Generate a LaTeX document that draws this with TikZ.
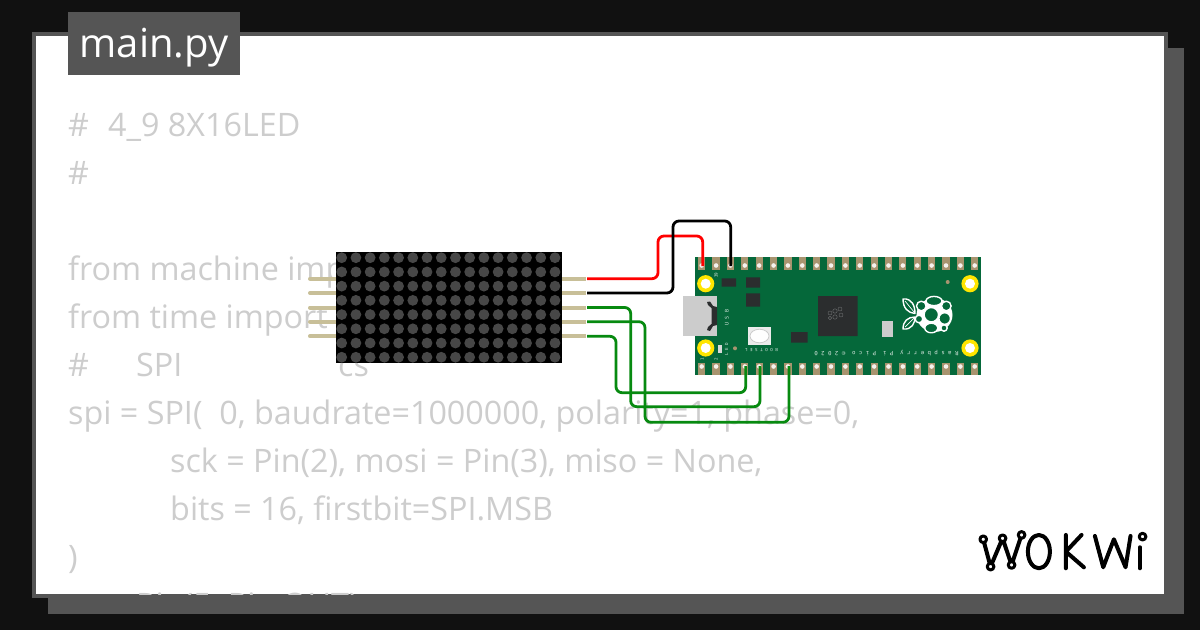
\documentclass[tikz,border=0pt]{standalone}
\usepackage{fontspec}
\setmainfont{Open Sans}
\newfontfamily\pcbfont{DejaVu Sans Mono}
\definecolor{pageDark}{HTML}{111111}
\definecolor{panelGrey}{HTML}{555555}
\definecolor{codeGrey}{HTML}{CDCDCD}
\definecolor{pcbGreen}{HTML}{05683A}
\definecolor{padTan}{HTML}{A8946F}
\definecolor{pinTan}{HTML}{C8BF98}
\definecolor{chipDark}{HTML}{2B2D2E}
\definecolor{wireGreen}{HTML}{078A10}
\definecolor{ledGrey}{HTML}{474747}
\definecolor{ringYellow}{HTML}{FFE500}
\tikzset{
	codeline/.style={anchor=base west, inner sep=0pt, text=codeGrey, font=\fontsize{32.3}{32}\selectfont},
	wire/.style={line width=2.8pt, rounded corners=6pt},
	pcblabel/.style={inner sep=0pt, text=white!85!pcbGreen, font=\pcbfont\fontsize{5}{5}\selectfont},
	logoline/.style={line width=4pt, line cap=round, line join=round},
}
\begin{document}
\begin{tikzpicture}[x=1pt, y=-1pt, line join=round, line cap=butt]
	\useasboundingbox (0,0) rectangle (1200,630);
	\fill[pageDark] (0,0) rectangle (1200,630);
	\fill[panelGrey] (48,48) rectangle (1184,614);
	\fill[panelGrey] (32,32) rectangle (1168,598);
	\fill[white] (36,36) rectangle (1164,594);
	\begin{scope}
		\clip (36,36) rectangle (1164,594);
		\node[codeline] (lineA) at (68,136) {\#};
		\node[codeline] (lineAb) at (108,136) {4\_9 8X16LED};
		\node[codeline] (lineB) at (68,184) {\#};
		\node[codeline] (lineC) at (68,280) {from machine import Pin, SPI};
		\node[codeline] (lineD) at (68,328) {from time import sleep\_ms};
		\node[codeline] (lineE) at (68,376) {\#};
		\node[codeline] (lineEb) at (136,376) {SPI};
		\node[codeline] (lineEc) at (338,376) {cs};
		\node[codeline] (lineF) at (68,424) {spi = SPI(\ \ 0, baudrate=1000000, polarity=1, phase=0,};
		\node[codeline] (lineG) at (170,472) {sck = Pin(2), mosi = Pin(3), miso = None,};
		\node[codeline] (lineH) at (170,520) {bits = 16, firstbit=SPI.MSB};
		\node[codeline] (lineI) at (68,568) {)};
		\node[codeline] (lineJ) at (136,616) {Pin(5, Pin.OUT)};
	\end{scope}
	\fill[panelGrey] (68,12) rectangle (240,75);
	\node[anchor=base west, inner sep=0pt, text=white, font=\fontsize{40}{40}\selectfont] (tabName) at (79.5,57) {main.py};

	\foreach \y in {278.7,293,307.5,321.7,336.3} {
		\draw[pinTan, line width=4pt, line cap=round] (310,\y)--(340,\y);
		\draw[pinTan, line width=4pt] (558,\y)--(586,\y);
	}
	\fill[black] (336,252) rectangle (562,363);
	\foreach \i in {0,...,15} \foreach \j in {0,...,7}
		\fill[ledGrey] ({341.7+14.22*\i},{257.7+14.22*\j}) circle (5.4);

	\fill[pcbGreen] (695,257) rectangle (981,375);
	\foreach \i in {0,...,19} {
		\fill[padTan] ({701.7+14.37*\i-3.6},257) rectangle ({701.7+14.37*\i+3.6},269.5);
		\fill[white!88!padTan] ({701.7+14.37*\i},265.5) circle (2.3);
		\fill[padTan] ({701.7+14.37*\i-3.6},362.5) rectangle ({701.7+14.37*\i+3.6},375);
		\fill[white!88!padTan] ({701.7+14.37*\i},366.5) circle (2.3);
	}
	\foreach \p/\q in {705.7/283.7,970/283.7,705.7/348,970/348} {
		\fill[ringYellow] (\p,\q) circle (8.6);
		\fill[white] (\p,\q) circle (5);
	}
	\fill[white!80!black] (683,296) rectangle (716.7,335.7);
	\fill[chipDark] (707,302)--(710,301.5)--(713,306)--(717,307)--(717,325)--(713,326)--(710,331)--(707,330)--(708,327)--(711.5,324)--(711.5,308)--(708,305)--cycle;
	\fill[chipDark] (721.7,278.3) rectangle (736,286.7)
		(746,277.3) rectangle (760,287.7)
		(746,293.3) rectangle (760,306.7)
		(818,296) rectangle (857.7,336)
		(791,332) rectangle (807.7,342.7);
	\draw[white!28!chipDark, line width=0.5pt] (835,311) circle (2.2) (840,309) circle (2) (841,315) circle (2) (835,317) circle (2.2) (830,313) circle (2) (830,318) circle (1.8);
	\fill[white!92!black] (748.3,327.3) rectangle (770.7,344.7);
	\draw[white!80!black, fill=white, line width=0.8pt] (759.5,336) ellipse (9.5 and 6.8);
	\fill[white!80!black] (882.3,321) rectangle (893.3,337.3);
	\fill[padTan] (735,348.3) circle (2) (947.7,282) circle (2);
	\fill[white!85!black] (718.3,345) rectangle (721.7,352.7);

	\node[pcblabel, rotate=180, font=\pcbfont\fontsize{5.7}{5.7}\selectfont] (picoName) at (886.5,352.7) {R a s p b e r r y\ \ P i\ \ P i c o\ \ © 2 0 2 0};
	\node[pcblabel, rotate=180, font=\pcbfont\fontsize{4.2}{4.2}\selectfont] (bootName) at (761.5,349.7) {B O O T S E L};
	\node[pcblabel, rotate=90] (usbName) at (726.7,317.5) {U S B};
	\node[pcblabel, rotate=90, font=\pcbfont\fontsize{4.2}{4.2}\selectfont] (ledName) at (726.7,349) {L E D};
	\node[pcblabel, rotate=90, font=\pcbfont\fontsize{4.2}{4.2}\selectfont] (pinNine) at (716,275) {39};
	\node[pcblabel, rotate=90, font=\pcbfont\fontsize{4.2}{4.2}\selectfont] (pinOne) at (702,359) {1};
	\node[pcblabel, rotate=90, font=\pcbfont\fontsize{4.2}{4.2}\selectfont] (pinTwo) at (716,359) {2};

	\begin{scope}[white, line width=1.4pt]
		\draw (903,299) .. controls (912,298) and (915,306) .. (915,313.5) .. controls (908,313) and (903,308) .. cycle;
		\draw (903,329) .. controls (912,330) and (915,323) .. (915,317) .. controls (908,317) and (903,321) .. cycle;
		\draw[line width=0.7pt] (905,301)--(914,312) (905,327)--(914,318);
		\fill (934.5,315) ellipse (18 and 17);
		\draw[fill=pcbGreen] (931.3,314.7) circle (7.2)
			(934,301) ellipse (8 and 4.6)
			(921.3,306) circle (4.8)
			(946.3,306) circle (4.8)
			(944.7,318.5) circle (5.8)
			(919,319) circle (3.8)
			(931.3,328) ellipse (6.5 and 4.8)
			(944,328) circle (3.2);
	\end{scope}

	\coordinate (ledVcc) at (587,278.7);
	\coordinate (ledGnd) at (587,293);
	\coordinate (ledDin) at (587,307.5);
	\coordinate (ledCs) at (587,321.7);
	\coordinate (ledClk) at (587,336.3);
	\coordinate (picoVcc) at (702.7,266);
	\coordinate (picoGnd) at (730.7,266);
	\coordinate (picoA) at (745.7,366);
	\coordinate (picoB) at (760,366);
	\coordinate (picoC) at (789,366);
	\draw[wire, red] (ledVcc)-|(658,236)-|(picoVcc);
	\draw[wire, black] (ledGnd)-|(673,221)-|(picoGnd);
	\draw[wire, wireGreen] (ledDin)-|(630.7,406.7)-|(picoB);
	\draw[wire, wireGreen] (ledCs)-|(645,422.3)-|(picoC);
	\draw[wire, wireGreen] (ledClk)-|(616,392.7)-|(picoA);

	\begin{scope}[x=0.3333pt, y=-0.3333pt, shift={(2880,1530)}]
		\draw[logoline] (70,88)--(92,170)--(128,85)--(155,165)--(185,75);
		\draw[logoline, fill=white, line width=3pt] (70,88) circle (10) (128,85) circle (10) (185,75) circle (10) (92,170) circle (10) (155,165) circle (10);
		\draw[logoline] (237,125) ellipse (33 and 50);
		\draw[logoline] (318,75)--(318,175) (365,75)--(318,125)--(372,172);
		\draw[logoline] (405,78)--(430,172)--(462,88)--(497,172)--(512,78);
		\draw[logoline] (540,112)--(540,175);
		\draw[logoline, fill=white, line width=3pt] (548,80) circle (10);
	\end{scope}
\end{tikzpicture}
\end{document}
